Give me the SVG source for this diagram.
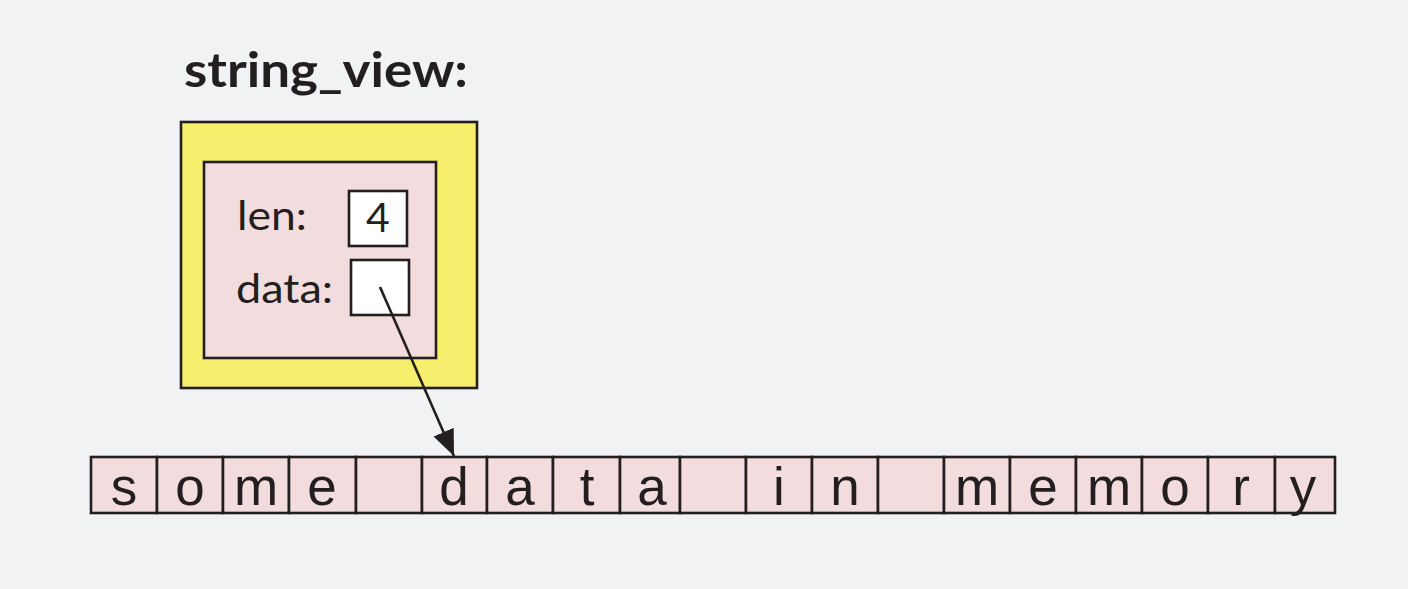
<svg xmlns="http://www.w3.org/2000/svg" width="1408" height="589" viewBox="0 0 1408 589">
<style>
.bg{fill:#f1f2f4}
.box{stroke:#231f20;stroke-width:2.6}
.outer{fill:#f6ef6e}
.inner{fill:#f3dcdd}
.val{fill:#ffffff}
.cell{fill:#f3dcdd;stroke:#231f20;stroke-width:2.6}
.lbl{font-family:Lato,"Open Sans",sans-serif;font-size:41px;fill:#231f20}
.title{font-family:Lato,"Open Sans",sans-serif;font-size:47px;font-weight:bold;fill:#231f20}
.ch{font-family:"Liberation Sans",Arial,sans-serif;font-size:53px;fill:#231f20;text-anchor:middle}
.conn{stroke:#231f20;stroke-width:2.6;fill:none}
</style>
<defs>
<marker id="ah" viewBox="0 0 26 22" refX="26" refY="11" markerWidth="26" markerHeight="22" markerUnits="userSpaceOnUse" orient="auto">
<path d="M0,0 L26,11 L0,22 z" fill="#231f20"/>
</marker>
</defs>
<rect class="bg" x="0" y="0" width="1408" height="589"/>
<g id="title">
<text class="title" x="184" y="87" textLength="284" lengthAdjust="spacingAndGlyphs">string_view:</text>
</g>
<g id="string_view">
<rect class="box outer" x="181" y="122" width="296" height="266"/>
<rect class="box inner" x="204" y="162" width="232" height="196"/>
<text class="lbl" x="237" y="230" textLength="70" lengthAdjust="spacingAndGlyphs">len:</text>
<rect class="box val" x="349" y="191" width="58" height="55"/>
<text class="lbl" x="378" y="232" text-anchor="middle">4</text>
<text class="lbl" x="236" y="303" textLength="97" lengthAdjust="spacingAndGlyphs">data:</text>
<rect class="box val" x="351" y="260" width="58" height="55"/>
</g>
<g id="memory">
<rect class="cell" x="91" y="457" width="66" height="56"/>
<rect class="cell" x="157" y="457" width="66" height="56"/>
<rect class="cell" x="223" y="457" width="66" height="56"/>
<rect class="cell" x="289" y="457" width="67" height="56"/>
<rect class="cell" x="356" y="457" width="66" height="56"/>
<rect class="cell" x="422" y="457" width="65" height="56"/>
<rect class="cell" x="487" y="457" width="66" height="56"/>
<rect class="cell" x="553" y="457" width="67" height="56"/>
<rect class="cell" x="620" y="457" width="60" height="56"/>
<rect class="cell" x="680" y="457" width="66" height="56"/>
<rect class="cell" x="746" y="457" width="66" height="56"/>
<rect class="cell" x="812" y="457" width="66" height="56"/>
<rect class="cell" x="878" y="457" width="66" height="56"/>
<rect class="cell" x="944" y="457" width="66" height="56"/>
<rect class="cell" x="1010" y="457" width="66" height="56"/>
<rect class="cell" x="1076" y="457" width="66" height="56"/>
<rect class="cell" x="1142" y="457" width="66" height="56"/>
<rect class="cell" x="1208" y="457" width="67" height="56"/>
<rect class="cell" x="1275" y="457" width="60" height="56"/>
<text class="ch" x="124" y="505">s</text>
<text class="ch" x="190" y="505">o</text>
<text class="ch" x="256" y="505">m</text>
<text class="ch" x="322" y="505">e</text>
<text class="ch" x="454" y="505">d</text>
<text class="ch" x="520" y="505">a</text>
<text class="ch" x="587" y="505">t</text>
<text class="ch" x="652" y="505">a</text>
<text class="ch" x="779" y="505">i</text>
<text class="ch" x="845" y="505">n</text>
<text class="ch" x="977" y="505">m</text>
<text class="ch" x="1043" y="505">e</text>
<text class="ch" x="1109" y="505">m</text>
<text class="ch" x="1175" y="505">o</text>
<text class="ch" x="1241" y="505">r</text>
<text class="ch" x="1303" y="505">y</text>
</g>
<g id="connectors">
<line class="conn" x1="380" y1="287" x2="454" y2="456" marker-end="url(#ah)"/>
</g>
</svg>
